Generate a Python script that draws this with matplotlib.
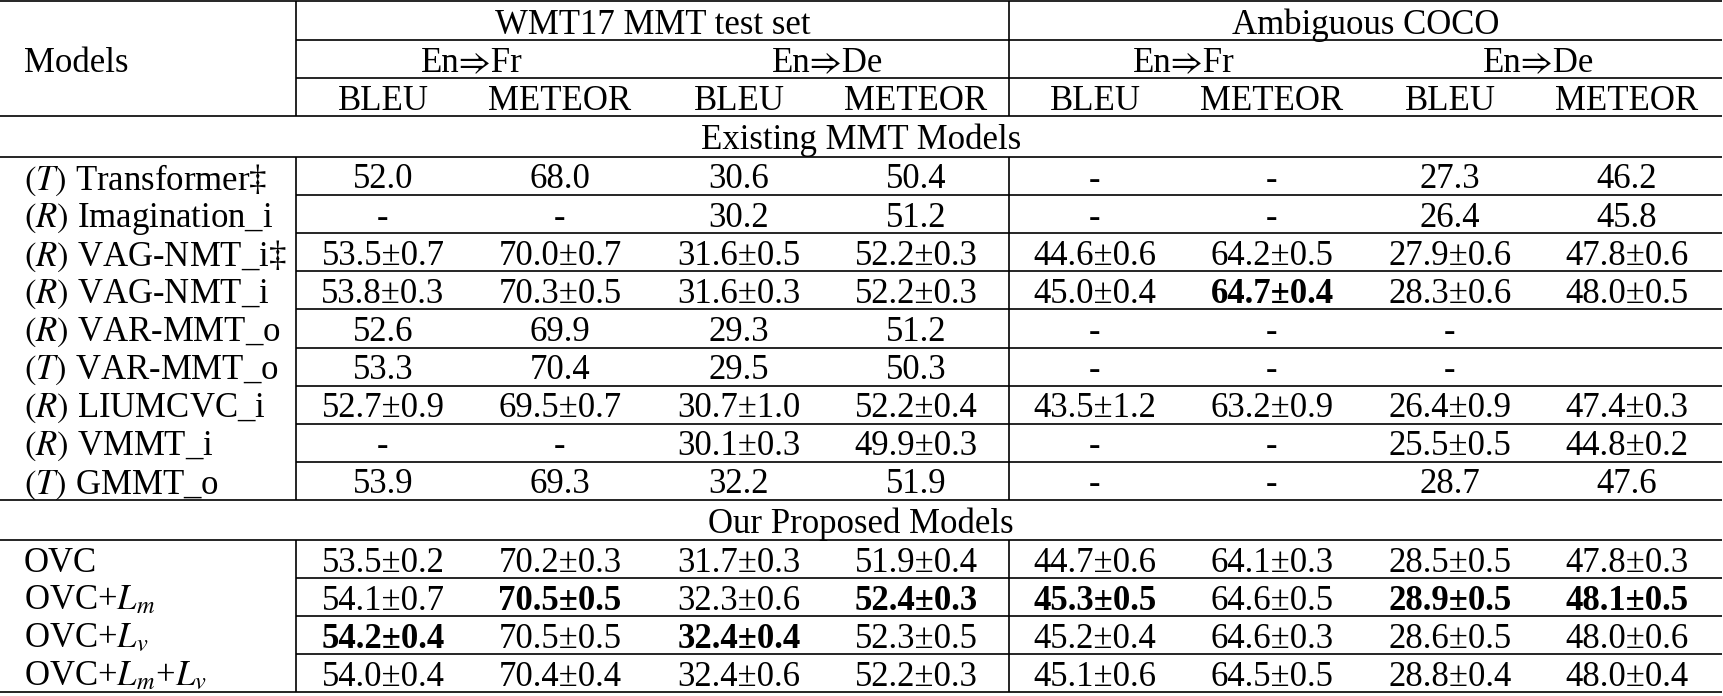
import matplotlib
matplotlib.use("Agg")
import matplotlib.pyplot as plt

plt.rcParams['font.family'] = ['Liberation Serif', 'STIXGeneral', 'DejaVu Serif']
plt.rcParams['mathtext.fontset'] = 'stix'

# table content
existing_models = [r"$(T)$ Transformer‡", r"$(R)$ Imagination_i", r"$(R)$ VAG-NMT_i‡",
                   r"$(R)$ VAG-NMT_i", r"$(R)$ VAR-MMT_o", r"$(T)$ VAR-MMT_o",
                   r"$(R)$ LIUMCVC_i", r"$(R)$ VMMT_i", r"$(T)$ GMMT_o"]
proposed_models = ["OVC", r"OVC+$L_m$", r"OVC+$L_v$", r"OVC+$L_m$+$L_v$"]

wmt_fr_bleu = ["52.0", "-", "53.5±0.7", "53.8±0.3", "52.6", "53.3", "52.7±0.9", "-", "53.9",
               "53.5±0.2", "54.1±0.7", "54.2±0.4", "54.0±0.4"]
wmt_fr_meteor = ["68.0", "-", "70.0±0.7", "70.3±0.5", "69.9", "70.4", "69.5±0.7", "-", "69.3",
                 "70.2±0.3", "70.5±0.5", "70.5±0.5", "70.4±0.4"]
wmt_de_bleu = ["30.6", "30.2", "31.6±0.5", "31.6±0.3", "29.3", "29.5", "30.7±1.0", "30.1±0.3", "32.2",
               "31.7±0.3", "32.3±0.6", "32.4±0.4", "32.4±0.6"]
wmt_de_meteor = ["50.4", "51.2", "52.2±0.3", "52.2±0.3", "51.2", "50.3", "52.2±0.4", "49.9±0.3", "51.9",
                 "51.9±0.4", "52.4±0.3", "52.3±0.5", "52.2±0.3"]
coco_fr_bleu = ["-", "-", "44.6±0.6", "45.0±0.4", "-", "-", "43.5±1.2", "-", "-",
                "44.7±0.6", "45.3±0.5", "45.2±0.4", "45.1±0.6"]
coco_fr_meteor = ["-", "-", "64.2±0.5", "64.7±0.4", "-", "-", "63.2±0.9", "-", "-",
                  "64.1±0.3", "64.6±0.5", "64.6±0.3", "64.5±0.5"]
coco_de_bleu = ["27.3", "26.4", "27.9±0.6", "28.3±0.6", "-", "-", "26.4±0.9", "25.5±0.5", "28.7",
                "28.5±0.5", "28.9±0.5", "28.6±0.5", "28.8±0.4"]
coco_de_meteor = ["46.2", "45.8", "47.8±0.6", "48.0±0.5", "", "", "47.4±0.3", "44.8±0.2", "47.6",
                  "47.8±0.3", "48.1±0.5", "48.0±0.6", "48.0±0.4"]

# (row, column) of bold cells
bold_cells = [(3, 5), (10, 1), (10, 3), (10, 4), (10, 6), (10, 7), (11, 0), (11, 2)]

columns = [wmt_fr_bleu, wmt_fr_meteor, wmt_de_bleu, wmt_de_meteor,
           coco_fr_bleu, coco_fr_meteor, coco_de_bleu, coco_de_meteor]
col_x = [383, 560, 739, 916, 1095, 1272, 1450, 1627]

W, H = 1724, 696
fig = plt.figure(figsize=(W / 100, H / 100), dpi=100)
ax = fig.add_axes([0, 0, 1, 1])
ax.set_xlim(0, W)
ax.set_ylim(H, 0)
ax.axis('off')

FS = 25
LW = 1.2
x0, xv1, xv2, x1 = 0, 296, 1009, 1722

def hline(y, xa=x0, xb=x1):
    ax.plot([xa, xb], [y, y], color='black', lw=LW, solid_capstyle='butt')

def vline(x, ya, yb):
    ax.plot([x, x], [ya, yb], color='black', lw=LW, solid_capstyle='butt')

def txt(x, y, s, ha='center', weight='normal'):
    ax.text(x, y, s, ha=ha, va='center_baseline', fontsize=FS, weight=weight)

# header
for y in [1, 116, 157, 500, 540, 692]:
    hline(y)
hline(40, xv1)
hline(78, xv1)
for x in [xv1, xv2]:
    vline(x, 1, 116)
    vline(x, 157, 500)
    vline(x, 540, 692)

txt(24, 59, "Models", ha='left')
txt((xv1 + xv2) / 2, 21, "WMT17 MMT test set")
txt((xv2 + x1) / 2, 21, "Ambiguous COCO")
for i, pair in enumerate(["En⇒Fr", "En⇒De"] * 2):
    txt((col_x[2 * i] + col_x[2 * i + 1]) / 2, 59, pair)
for i, x in enumerate(col_x):
    txt(x, 97, ["BLEU", "METEOR"][i % 2])

txt((x0 + x1) / 2, 136, "Existing MMT Models")
txt((x0 + x1) / 2, 520, "Our Proposed Models")

# rows
row_top = [157 + 38.1 * k for k in range(len(existing_models))] + \
          [540 + 38 * k for k in range(len(proposed_models))]
names = existing_models + proposed_models
for r, name in enumerate(names):
    yc = row_top[r] + 19
    txt(24, yc, name, ha='left')
    for c, col in enumerate(columns):
        w = 'bold' if (r, c) in bold_cells else 'normal'
        txt(col_x[c], yc, col[r], weight=w)
    if r not in (len(existing_models) - 1, len(names) - 1):
        hline(row_top[r] + (38.1 if r < len(existing_models) else 38), xv1)

fig.savefig("out.png", dpi=100)
